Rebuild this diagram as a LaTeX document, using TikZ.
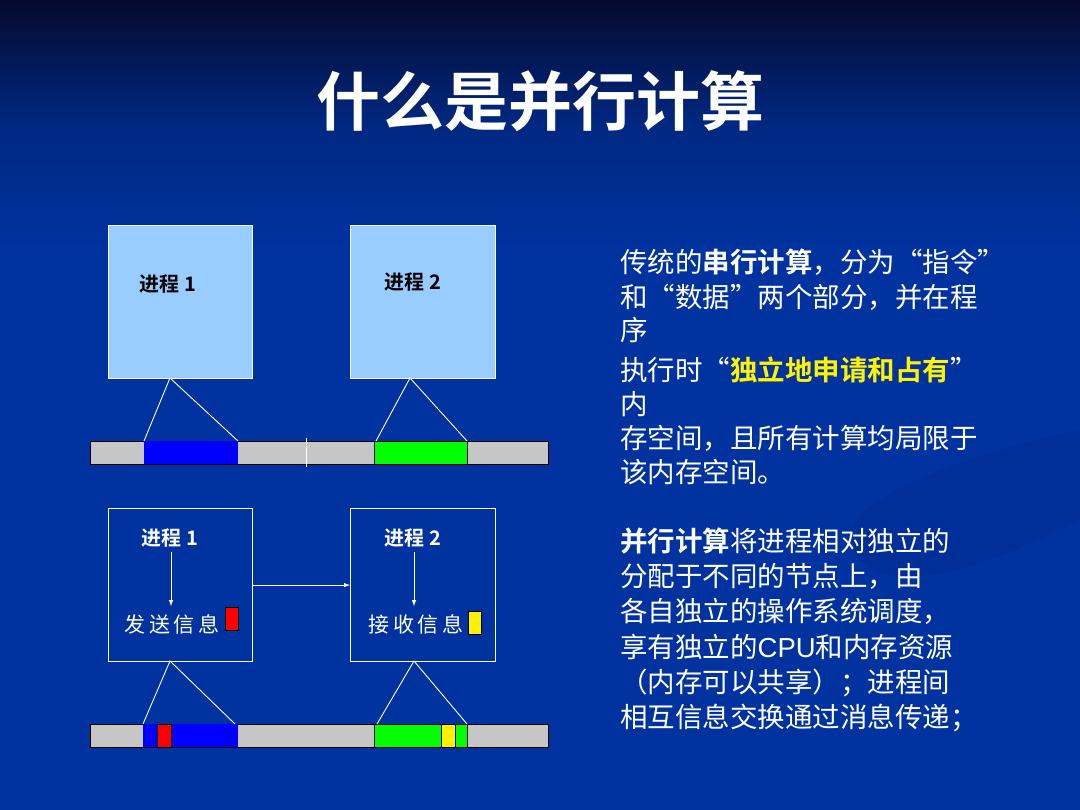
\documentclass[tikz,border=0pt]{standalone}
\usepackage{fontspec}
\newfontfamily\cjk{Noto Sans CJK SC}
\newfontfamily\cjkb{Noto Sans CJK SC Bold}
\setmainfont{Liberation Serif}
\setsansfont{Liberation Sans}
\definecolor{bgblue}{RGB}{0,51,160}
\definecolor{bgmid}{RGB}{0,40,130}
\definecolor{bgtop}{RGB}{5,10,45}
\definecolor{swirl}{RGB}{0,45,150}
\definecolor{lblue}{RGB}{153,204,255}
\begin{document}
\begin{tikzpicture}[x=1pt,y=-1pt,
  tx/.style={anchor=west,inner sep=0pt,text=white,font=\cjk\fontsize{27.5}{27.5}\selectfont},
  lbl/.style={inner sep=0pt,text=white,font=\cjk\fontsize{21}{21}\selectfont},
  proc/.style={draw=white,line width=1.2pt},
  wl/.style={white,line width=0.9pt},
  seg/.style={draw=black,line width=0.8pt}]
\useasboundingbox (0,0) rectangle (1080,810);
\shade[top color=bgtop, bottom color=bgblue, middle color=bgmid] (0,0) rectangle (1080,250);
\fill[bgblue] (0,249) rectangle (1080,810);
\fill[swirl,opacity=0.5] (1080,430) .. controls (900,470) and (820,520) .. (860,560) .. controls (900,600) and (1000,560) .. (1080,520) -- cycle;
% title
\node (title) [text=white,font=\cjkb\fontsize{64}{64}\selectfont] at (540,101) {什么是并行计算};
% top diagram
\node (p1) [proc,fill=lblue,minimum width=144pt,minimum height=153pt,anchor=north west] at (108,225) {};
\node (p2) [proc,fill=lblue,minimum width=145pt,minimum height=153pt,anchor=north west] at (350,225) {};
\node (t1) [text=black,font=\cjkb\fontsize{20}{20}\selectfont] at (168,284) {进程 1};
\node (t2) [text=black,font=\cjkb\fontsize{20}{20}\selectfont] at (413,282) {进程 2};
\draw[seg,fill=gray!45] (90,441) rectangle (548,464);
\fill[blue] (144,441) rectangle (238,464);
\fill[green] (374,441) rectangle (467,464);
\draw[seg] (374,441) rectangle (467,464);
\draw[white,line width=1pt] (306,438) -- (306,467);
\coordinate (a1) at (170,378); \coordinate (a2) at (410,378);
\draw[wl] (144,441) -- (a1) -- (238,441);
\draw[wl] (376,441) -- (a2) -- (467,441);
% bottom diagram
\node (q1) [proc,minimum width=144pt,minimum height=153pt,anchor=north west] at (108,508) {};
\node (q2) [proc,minimum width=145pt,minimum height=153pt,anchor=north west] at (350,508) {};
\node (u1) [lbl,font=\cjkb\fontsize{20}{20}\selectfont] at (170,538) {进程 1};
\node (u2) [lbl,font=\cjkb\fontsize{20}{20}\selectfont] at (413,538) {进程 2};
\node (s1) [lbl] at (172,624) {发\,送\,信\,息};
\node (s2) [lbl] at (416,624) {接\,收\,信\,息};
\draw[white,line width=1pt,-latex] (171,552) -- (171,606);
\draw[white,line width=1pt,-latex] (414,552) -- (414,606);
\draw[white,line width=1pt,-latex] (q1.east) -- (q2.west);
\draw[seg,fill=red] (225,607) rectangle (238,630);
\draw[seg,fill=yellow] (468,611) rectangle (481,634);
\draw[seg,fill=gray!45] (90,724) rectangle (548,747);
\fill[blue] (143,724) rectangle (238,747);
\draw[seg,fill=red] (157,724) rectangle (171,747);
\draw[seg,fill=green] (374,724) rectangle (467,747);
\draw[seg,fill=yellow] (441,724) rectangle (455,747);
\coordinate (b1) at (170,661); \coordinate (b2) at (414,661);
\draw[wl] (143,724) -- (b1) -- (235,724);
\draw[wl] (377,724) -- (b2) -- (467,724);
% right text
\node (r1) [tx] at (620,262) {传统的{\cjkb 串行计算}，分为“指令”};
\node (r2) [tx] at (620,297) {和“数据”两个部分，并在程};
\node (r3) [tx] at (620,330) {序};
\node (r4) [tx] at (620,370) {执行时“{\cjkb\color{yellow}独立地申请和占有}”};
\node (r5) [tx] at (620,404) {内};
\node (r6) [tx] at (620,438) {存空间，且所有计算均局限于};
\node (r7) [tx] at (620,472) {该内存空间。};
\node (s1r) [tx] at (620,541) {{\cjkb 并行计算}将进程相对独立的};
\node (s2r) [tx] at (620,576) {分配于不同的节点上，由};
\node (s3r) [tx] at (620,611) {各自独立的操作系统调度，};
\node (s4r) [tx] at (620,647) {享有独立的{\sffamily CPU}和内存资源};
\node (s5r) [tx] at (620,683) {（内存可以共享）；进程间};
\node (s6r) [tx] at (620,718) {相互信息交换通过消息传递；};
\end{tikzpicture}
\end{document}
